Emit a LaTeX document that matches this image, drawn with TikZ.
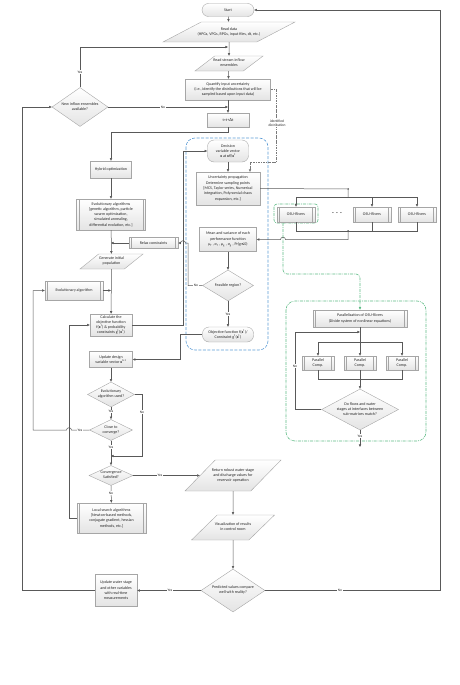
\documentclass[tikz,border=0pt]{standalone}
\usepackage{fontspec}
\setmainfont{Carlito}
\newfontfamily\symf{DejaVu Sans}
\usetikzlibrary{shapes.geometric,arrows.meta}
\definecolor{bd}{HTML}{A6A6A6}
\definecolor{fillb}{HTML}{E4E4E4}
\definecolor{txt}{HTML}{262626}
\definecolor{lnc}{HTML}{595959}
\definecolor{bluec}{HTML}{5B9BD5}
\definecolor{greenc}{HTML}{5DBB84}
\newcommand{\dtxt}[1]{\raisebox{-1pt}[1pt][1pt]{\makebox[1pt]{\begin{tabular}{@{}c@{}}#1\end{tabular}}}}
\newcommand{\bx}{\textbf{x}}
\newcommand{\sut}{\textsuperscript{t}}
\begin{document}
\begin{tikzpicture}[x=1pt,y=-1pt,
  shp/.style={draw=bd, line width=0.4pt, top color=white, bottom color=fillb, text=txt,
    font=\fontsize{4}{5.3}\selectfont, align=center, inner sep=0pt},
  proc/.style={shp, rectangle},
  term/.style={shp, rectangle, rounded corners=6.5pt},
  ppro/.style={shp, rectangle, path picture={\draw[bd, line width=0.4pt]
    ([xshift=2.5pt]path picture bounding box.north west) -- ([xshift=2.5pt]path picture bounding box.south west)
    ([xshift=-2.5pt]path picture bounding box.north east) -- ([xshift=-2.5pt]path picture bounding box.south east);}},
  io/.style={shp, trapezium, trapezium stretches=true, trapezium left angle=#1, trapezium right angle=180-#1},
  io/.default=70,
  dec/.style={shp, diamond},
  ln/.style={draw=lnc, line width=0.5pt},
  arr/.style={ln, -{Triangle[length=2.6pt,width=2.2pt]}},
  lab/.style={fill=white, text=txt, font=\fontsize{3.6}{4}\selectfont, inner sep=0.4pt},
  jn/.style={circle, fill=lnc, inner sep=0pt, minimum size=2pt},
  bluebox/.style={draw=bluec, line width=0.6pt, dash pattern=on 3pt off 1.5pt, rounded corners=9pt},
  greenbox/.style={draw=greenc, line width=0.6pt, dash pattern=on 3pt off 1pt on 0.8pt off 1pt, rounded corners=9pt},
  greyd/.style={draw=lnc!80, line width=0.45pt, dash pattern=on 2.5pt off 1pt on 0.7pt off 1pt}
]
\useasboundingbox (0,0) rectangle (460,685);

% containers
\draw[bluebox] (186,138) rectangle (268,350);
\draw[greenbox] (286,301) rectangle (426,441);
\draw[greenbox, rounded corners=3pt] (274,204) rectangle (318,223);

% main column
\node[term, minimum width=52, minimum height=13] (start) at (228,10) {Start};
\node[io=71, minimum width=132, minimum height=20] (read) at (229,32) {\dtxt{Read data\\(HPGs, VPGs, RPGs, input files, dt, etc.)}};
\node[io=71, minimum width=68, minimum height=15] (stream) at (229,63.5) {\dtxt{Read stream inflow\\ensembles}};
\node[proc, minimum width=85, minimum height=21] (quant) at (228,89.5) {Quantify input uncertainty\\(i.e., identify the distributions that will be\\sampled based upon input data)};
\node[proc, minimum width=42, minimum height=14] (tdt) at (228,120) {t=t+{\symf Δ}t};
\node[dec, minimum width=56, minimum height=39] (newinf) at (80,107) {\dtxt{New inflow ensembles\\available?}};

% blue box content
\node[term, minimum width=41, minimum height=22] (dvec) at (228,151) {Decision\\variable vector\\\bx{} at \bx{\symf ∈}\bx\sut};
\node[proc, minimum width=64, minimum height=33] (unc) at (228,188.5) {Uncertainty propagation\\Determine sampling points\\{[}MCS, Taylor series, Numerical\\integration, Polynomial chaos\\expansion, etc.]};
\node[proc, minimum width=57, minimum height=24] (mean) at (228,239.5) {Mean and variance of each\\performance function\\μ\textsubscript{f} , σ\textsubscript{f} , μ\textsubscript{g} , σ\textsubscript{g} , Pr(g{\symf ≤}0)};
\node[dec, minimum width=51, minimum height=31] (feas) at (228,285.5) {\dtxt{Feasible region?}};
\node[term, minimum width=51, minimum height=15] (obj) at (228,334.5) {Objective function f(\bx\sut)/\\Constraint g\sut(\bx\sut)};

% left column
\node[proc, minimum width=41, minimum height=17] (hybrid) at (111,169.5) {Hybrid optimization};
\node[ppro, minimum width=69, minimum height=31] (ea) at (111,214.5) {Evolutionary algorithms\\{[}genetic algorithm, particle\\swarm optimization,\\simulated annealing,\\differential evolution, etc.]};
\node[ppro, minimum width=49, minimum height=11] (relax) at (153.5,243) {Relax constraints};
\node[io=70, minimum width=63, minimum height=15] (gen) at (111.5,261.5) {\dtxt{Generate initial\\population}};
\node[ppro, minimum width=58, minimum height=19] (evo) at (74,290.5) {Evolutionary algorithm};
\node[proc, minimum width=42, minimum height=22] (calc) at (111,325) {Calculate the\\objective function\\f(\bx\sut) \& probability\\constraints g\sut(\bx\sut)};
\node[proc, minimum width=43, minimum height=16] (upd) at (111,359.5) {Update design\\variable vector \bx\textsuperscript{t+1}};
\node[dec, minimum width=47, minimum height=25] (eaused) at (111,394.5) {\dtxt{Evolutionary\\algorithm used?}};
\node[dec, minimum width=43, minimum height=21] (close) at (111,430) {\dtxt{Close to\\converge?}};
\node[dec, minimum width=44, minimum height=20] (conv) at (111,475.5) {\dtxt{Convergence\\Satisfied?}};
\node[ppro, minimum width=69, minimum height=30] (local) at (111.5,518) {Local search algorithms\\{[}Newton-based methods,\\conjugate gradient, hessian\\methods, etc.]};

% bottom
\node[io=67, minimum width=96, minimum height=31] (ret) at (233,475.5) {\dtxt{Return robust water stage\\and discharge values for\\reservoir operation}};
\node[io=68, minimum width=83, minimum height=25] (vis) at (233,527.5) {\dtxt{Visualization of results\\in control room}};
\node[dec, minimum width=64, minimum height=43] (pv) at (233,590.5) {\dtxt{Predicted values compare\\well with reality?}};
\node[proc, minimum width=42, minimum height=32] (updw) at (116,590.5) {Update water stage\\and other variables\\with real-time\\measurements};

% OSU-Rivers
\node[ppro, minimum width=38, minimum height=15] (osu1) at (296,214.5) {OSU-Rivers};
\node[ppro, minimum width=38, minimum height=15] (osu2) at (372,214.5) {OSU-Rivers};
\node[ppro, minimum width=38, minimum height=15] (osu3) at (417,214.5) {OSU-Rivers};
\node[text=txt, font=\fontsize{7}{7}\selectfont\bfseries] (dots) at (337,213.5) {. . .};
\node[jn] (j1) at (348,189) {};
\node[jn] (j2) at (348,231) {};

% parallel box
\node[ppro, minimum width=94, minimum height=17] (par) at (360,318.5) {Parallelization of OSU-Rivers\\(Divide system of nonlinear equations)};
\node[ppro, minimum width=32, minimum height=14] (pc1) at (318,363) {Parallel\\Comp.};
\node[ppro, minimum width=32, minimum height=14] (pc2) at (360,363) {Parallel\\Comp.};
\node[ppro, minimum width=32, minimum height=14] (pc3) at (402,363) {Parallel\\Comp.};
\node[dec, minimum width=77, minimum height=41] (match) at (360,409.5) {\dtxt{Do flows and water\\stages at interfaces between\\sub-matrices match?}};
\coordinate (pend) at (360,447);

% ---------- connectors ----------
\draw[arr] (start) -- (read);
\draw[arr] (read) -- (stream);
\draw[arr] (stream) -- (quant);
\draw[arr] (quant) -- (tdt);
\draw[arr] (newinf.north) -- (80,47) -- (228,47);
\draw[arr] (newinf.east) -- (228,107);
\draw[arr] (tdt.south) -- (228,132) -- (111,132) -- (hybrid.north);
\draw[greyd, -{Triangle[length=2.6pt,width=2.2pt]}] (quant.east) -- (276,89.5) -- (276,162) -- (250,162) -- (250,172);
\node[lab, align=center, fill=white] (idl) at (277,123) {identified\\distribution};

\draw[arr] (hybrid) -- (ea);
\draw[arr] (ea) -- (gen);
\draw[arr] (relax.west) -- (111,243);
\draw[arr] (gen) -- (calc);
\draw[arr] (evo.east) -- (111,290.5);
\draw[arr] (calc.east) -- (183,325) -- (183,151) -- (dvec.west);
\draw[arr] (dvec) -- (unc);
\draw[ln] (unc.east) -- (j1) -- (348,197);
\draw[ln] (296,197) -- (417,197);
\draw[arr] (296,197) -- (osu1.north);
\draw[arr] (372,197) -- (osu2.north);
\draw[arr] (417,197) -- (osu3.north);
\draw[ln] (osu1.south) -- (296,231) -- (417,231) -- (osu3.south);
\draw[ln] (osu2.south) -- (372,231);
\draw[arr] (j2) -- (348,239.5) -- (285.5,239.5) .. controls (285.5,236.5) and (280.5,236.5) .. (280.5,239.5) -- (mean.east);
\draw[arr] (mean) -- (feas);
\draw[arr] (feas.west) -- (188,285.5) -- (188,243) -- (185.5,243) .. controls (185.5,240) and (180.5,240) .. (180.5,243) -- (relax.east);
\node[lab] (lno1) at (196,285.5) {No};
\draw[arr] (feas) -- (obj);
\node[lab] (lyes1) at (228,314) {Yes};
\draw[arr] (obj.west) -- (180,334.5) -- (180,359.5) -- (upd.east);

% green connector
\draw[draw=greenc, line width=0.6pt, dash pattern=on 3pt off 1pt on 0.8pt off 1pt, rounded corners=4pt, -{Triangle[length=2.6pt,width=2.2pt]}] (283,223) -- (283,274) -- (360,274) -- (par.north);

\draw[ln] (par.south) -- (360,342);
\draw[ln] (318,342) -- (402,342);
\draw[arr] (318,342) -- (pc1.north);
\draw[arr] (360,342) -- (pc2.north);
\draw[arr] (402,342) -- (pc3.north);
\draw[ln] (pc1.south) -- (318,379) -- (402,379) -- (pc3.south);
\draw[ln] (pc2.south) -- (360,379);
\draw[arr] (360,379) -- (match.north);
\draw[arr] (match.west) -- (295,409.5) -- (295,332) -- (360,332);
\node[lab] (lno2) at (295,366) {No};
\draw[arr] (match.south) -- (pend);
\node[lab] (lyes2) at (360,436) {Yes};

% left decisions
\draw[arr] (upd) -- (eaused);
\draw[arr] (eaused) -- (close);
\node[lab] (lyes3) at (111,411.5) {Yes};
\draw[arr] (eaused.east) -- (142,394.5) -- (142,456) -- (111,456);
\node[lab] (lno3) at (142,412) {No};
\draw[arr] (close) -- (conv);
\node[lab] (lyes4) at (111,447) {Yes};
\draw[arr] (close.west) -- (71.5,430) .. controls (71.5,427) and (66.5,427) .. (66.5,430) -- (33,430) -- (33,290.5) -- (evo.west);
\node[lab] (lyes5) at (80,430) {Yes};
\draw[arr] (conv.east) -- (conv.east -| ret.west);
\node[lab] (lyes6) at (160,475.5) {Yes};
\draw[arr] (conv) -- (local);
\node[lab] (lno4) at (111,493) {No};
\draw[arr] (local.west) -- (69,518) -- (69,325) -- (calc.west);

\draw[arr] (ret) -- (vis);
\draw[arr] (vis) -- (pv);
\draw[arr] (pv.west) -- (updw.east);
\node[lab] (lyes7) at (170,590.5) {Yes};
\draw[arr] (pv.east) -- (440,590.5) -- (440,10) -- (start.east);
\node[lab] (lno5) at (340,590.5) {No};
\draw[arr] (updw.west) -- (22,590.5) -- (22,107) -- (newinf.west);
\node[lab] (lyes8) at (80,72) {Yes};
\node[lab] (lno6) at (163,107) {No};
\end{tikzpicture}
\end{document}
